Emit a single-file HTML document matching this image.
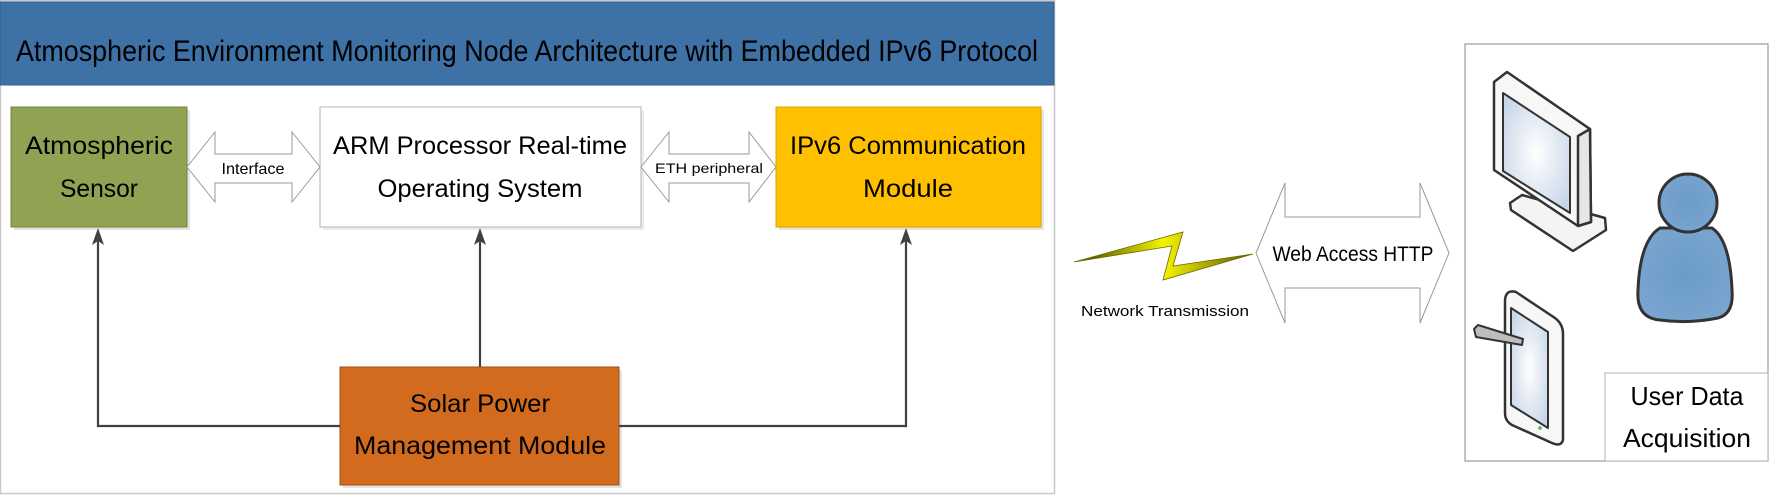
<!DOCTYPE html>
<html><head><meta charset="utf-8"><style>
html,body{margin:0;padding:0;background:#fff;}
svg{display:block;}
text{font-family:"Liberation Sans Narrow","Liberation Sans",sans-serif;fill:#000;}
</style></head><body>
<svg width="1773" height="499" viewBox="0 0 1773 499" xmlns="http://www.w3.org/2000/svg">
<defs>
<marker id="ah" markerWidth="10" markerHeight="10" refX="5" refY="1" orient="auto" markerUnits="userSpaceOnUse">
</marker>
<radialGradient id="scr" cx="0.5" cy="0.5" r="0.6"><stop offset="0" stop-color="#ffffff"/><stop offset="1" stop-color="#c9d6e8"/></radialGradient>
<radialGradient id="per" cx="0.5" cy="0.5" r="0.6"><stop offset="0" stop-color="#6b9bc8"/><stop offset="1" stop-color="#7aa6d0"/></radialGradient>
<linearGradient id="bolt" x1="0" y1="0" x2="1" y2="0"><stop offset="0" stop-color="#3a3a00"/><stop offset="0.5" stop-color="#f5f500"/><stop offset="1" stop-color="#5a5a00"/></linearGradient>
</defs>
<!-- outer frame -->
<rect x="0.5" y="0.5" width="1054" height="493" fill="#fff" stroke="#c8c8c8" stroke-width="1.5"/>
<rect x="0" y="2" width="1054" height="83" fill="#3e72a6" stroke="#2f5e8e"/>
<text x="527" y="61" font-size="30" text-anchor="middle" textLength="1022" lengthAdjust="spacingAndGlyphs">Atmospheric Environment Monitoring Node Architecture with Embedded IPv6 Protocol</text>

<!-- shadows -->
<rect x="14" y="110" width="176" height="120" fill="#e4e4e4"/>
<rect x="323" y="110" width="321" height="120" fill="#ececec"/>
<rect x="779" y="110" width="265" height="120" fill="#e4e4e4"/>
<rect x="343" y="370" width="279" height="118" fill="#e4e4e4"/>

<!-- boxes -->
<rect x="11" y="107" width="176" height="120" fill="#8fa352" stroke="#73863f"/>
<text x="99" y="154" font-size="25" text-anchor="middle" textLength="148" lengthAdjust="spacingAndGlyphs">Atmospheric</text>
<text x="99" y="197" font-size="25" text-anchor="middle" textLength="78" lengthAdjust="spacingAndGlyphs">Sensor</text>

<rect x="320" y="107" width="321" height="120" fill="#fff" stroke="#b5b5b5"/>
<text x="480" y="154" font-size="25" text-anchor="middle" textLength="294" lengthAdjust="spacingAndGlyphs">ARM Processor Real-time</text>
<text x="480" y="197" font-size="25" text-anchor="middle" textLength="205" lengthAdjust="spacingAndGlyphs">Operating System</text>

<rect x="776" y="107" width="265" height="120" fill="#ffc000" stroke="#d9a300"/>
<text x="908" y="154" font-size="25" text-anchor="middle" textLength="236" lengthAdjust="spacingAndGlyphs">IPv6 Communication</text>
<text x="908" y="197" font-size="25" text-anchor="middle" textLength="90" lengthAdjust="spacingAndGlyphs">Module</text>

<rect x="340" y="367" width="279" height="118" fill="#d26b1d" stroke="#9e5016"/>
<text x="480" y="412" font-size="25" text-anchor="middle" textLength="140" lengthAdjust="spacingAndGlyphs">Solar Power</text>
<text x="480" y="454" font-size="25" text-anchor="middle" textLength="252" lengthAdjust="spacingAndGlyphs">Management Module</text>

<!-- double arrows -->
<polygon points="187,167 215,132 215,154 292,154 292,132 320,167 292,202 292,183 215,183 215,202" fill="#fff" stroke="#9a9a9a"/>
<text x="253" y="174" font-size="16" text-anchor="middle" textLength="63" lengthAdjust="spacingAndGlyphs">Interface</text>
<polygon points="641,167 669,132 669,154 749,154 749,132 776,167 749,202 749,183 669,183 669,202" fill="#fff" stroke="#9a9a9a"/>
<text x="709" y="173" font-size="14" text-anchor="middle" textLength="108" lengthAdjust="spacingAndGlyphs">ETH peripheral</text>

<!-- connectors -->
<g stroke="#404040" stroke-width="2.2" fill="none">
<polyline points="340,426 98,426 98,240"/>
<line x1="480" y1="367" x2="480" y2="240"/>
<polyline points="619,426 906,426 906,240"/>
</g>
<g fill="#404040">
<polygon points="98,228 92,245 98,241 104,245"/>
<polygon points="480,228 474,245 480,241 486,245"/>
<polygon points="906,228 900,245 906,241 912,245"/>
</g>

<!-- lightning -->
<polygon points="1074,262 1183,232 1173,266 1253,254 1163,280 1172,246" fill="url(#bolt)" stroke="#6b6b00" stroke-width="0.8"/>
<text x="1165" y="316" font-size="15" text-anchor="middle" textLength="168" lengthAdjust="spacingAndGlyphs">Network Transmission</text>

<!-- web arrow -->
<polygon points="1256,253 1285,183 1285,217 1420,217 1420,183 1449,253 1420,323 1420,288 1285,288 1285,323" fill="#fff" stroke="#9a9a9a"/>
<text x="1353" y="261" font-size="21" text-anchor="middle" textLength="161" lengthAdjust="spacingAndGlyphs">Web Access HTTP</text>

<!-- user panel -->
<rect x="1465" y="44" width="303" height="417" fill="#fff" stroke="#9a9a9a" stroke-width="1.2"/>
<rect x="1605" y="373" width="163" height="88" fill="#fff" stroke="#b0b0b0"/>
<text x="1687" y="405" font-size="26" text-anchor="middle" textLength="113" lengthAdjust="spacingAndGlyphs">User Data</text>
<text x="1687" y="447" font-size="26" text-anchor="middle" textLength="128" lengthAdjust="spacingAndGlyphs">Acquisition</text>

<!-- monitor -->
<g stroke="#333" stroke-width="2.5" stroke-linejoin="round">
<polygon points="1510,203 1522,195 1605,218 1606,230 1573,251 1511,210" fill="#f4f4f4"/>
<polygon points="1494,82 1507,72 1590,129 1591,222 1578,226 1494,170" fill="#f7f7f7"/>
<polygon points="1578,136 1590,129 1591,222 1578,226" fill="#e6e6e6"/>
<polygon points="1503,93 1570,137 1570,213 1503,171" fill="url(#scr)" stroke-width="2"/>
</g>
<!-- tablet -->
<g stroke="#333" stroke-width="2.5" stroke-linejoin="round">
<path d="M1505,300 Q1506,289 1516,292 L1555,318 Q1563,324 1563,334 L1563,440 Q1561,447 1552,443 L1512,425 Q1505,421 1505,413 Z" fill="#f7f7f7"/>
<polygon points="1511,308 1548,332 1548,428 1511,405" fill="url(#scr)" stroke-width="2"/>
<circle cx="1540" cy="428" r="1.8" fill="#4caf50" stroke="none"/>
<polygon points="1474,329 1478,325 1523,339 1522,345 1476,337" fill="#bdbdbd" stroke-width="2"/>
</g>
<!-- person -->
<g stroke="#333" stroke-width="3">
<path d="M1660,228 Q1640,240 1638,290 Q1636,318 1660,320 Q1688,324 1718,318 Q1734,314 1732,290 Q1730,240 1712,228 Z" fill="url(#per)"/>
<circle cx="1688" cy="203" r="29" fill="url(#per)"/>
</g>
</svg>
</body></html>
